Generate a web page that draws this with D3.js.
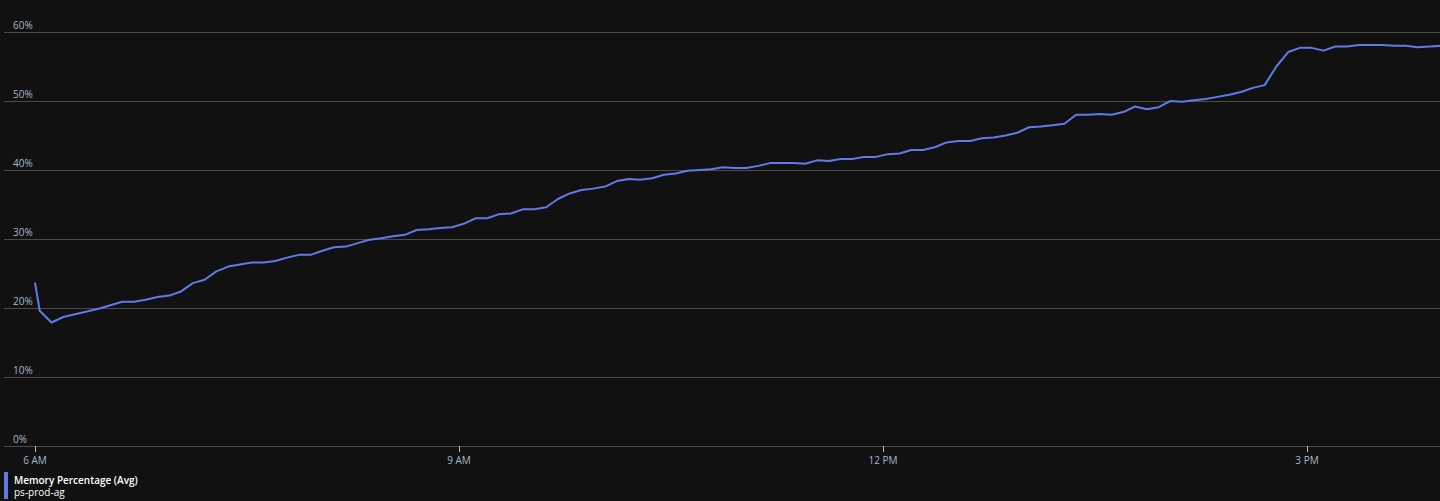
<!DOCTYPE html>
<html><head><meta charset="utf-8">
<script src="https://cdn.jsdelivr.net/npm/d3@7"></script>
<style>html,body{margin:0;background:#111111;overflow:hidden}</style>
</head><body><svg id="c" width="1440" height="501"></svg>
<script>
// minutes after 6 AM
const minutes = [0].concat(d3.range(120).map(k => 2 + 5 * k));
const memoryPct = [23.7,
19.6,17.9,18.7,19.1,19.5,19.9,20.4,20.9,20.9,21.2,21.6,21.8,22.4,23.6,24.1,25.3,26.0,26.3,26.6,26.6,
26.8,27.3,27.7,27.7,28.3,28.8,28.9,29.4,29.9,30.1,30.4,30.6,31.3,31.4,31.6,31.7,32.2,33.0,33.0,33.6,
33.7,34.3,34.3,34.6,35.8,36.6,37.1,37.3,37.6,38.4,38.7,38.6,38.8,39.3,39.5,39.9,40.0,40.1,40.4,40.3,
40.3,40.6,41.0,41.0,41.0,40.9,41.4,41.3,41.6,41.6,41.9,41.9,42.3,42.4,42.9,42.9,43.3,44.0,44.2,44.2,
44.6,44.7,45.0,45.4,46.2,46.3,46.5,46.7,48.0,48.0,48.1,48.0,48.4,49.2,48.8,49.1,50.0,49.9,50.1,50.3,
50.6,50.9,51.3,51.9,52.3,55.0,57.1,57.7,57.7,57.3,57.9,57.9,58.1,58.1,58.1,58.0,58.0,57.8,57.9,58.0];
const yTicks = [0,10,20,30,40,50,60];
const xTickMinutes = [0,180,360,540];
const xTickLabels = ["6 AM","9 AM","12 PM","3 PM"];
const legendTitle = "Memory Percentage (Avg)";
const legendSub = "ps-prod-ag";

const svg = d3.select("#c");
const x = d3.scaleLinear().domain([0,180]).range([35,459]);
const y = d3.scaleLinear().domain([0,60]).range([446,32]);
const font = "'Segoe UI','Open Sans',sans-serif";

svg.append("rect").attr("width",1440).attr("height",501).attr("fill","#111111");

const g = svg.append("g");
yTicks.forEach(t=>{
  g.append("line").attr("x1",4).attr("x2",1440).attr("y1",y(t)).attr("y2",y(t))
   .attr("stroke","#4b4b4b").attr("stroke-width",1).attr("shape-rendering","crispEdges");
  g.append("text").attr("x",13).attr("y",y(t)-3).text(t+"%")
   .attr("fill","#a8b8c8").attr("font-size",10).attr("font-family",font);
});
xTickMinutes.forEach((m,i)=>{
  g.append("line").attr("x1",x(m)).attr("x2",x(m)).attr("y1",446).attr("y2",452)
   .attr("stroke","#bbbbbb").attr("shape-rendering","crispEdges");
  g.append("text").attr("x",x(m)).attr("y",464).attr("text-anchor","middle").text(xTickLabels[i])
   .attr("fill","#a8b8c8").attr("font-size",10).attr("font-family",font);
});

svg.append("clipPath").attr("id","cp").append("rect").attr("x",0).attr("y",0).attr("width",1440).attr("height",446);
const line = d3.line().x((d,i)=>x(minutes[i])).y(d=>y(d));
svg.append("path").datum(memoryPct).attr("d",line).attr("clip-path","url(#cp)")
  .attr("fill","none").attr("stroke","#5f7be8").attr("stroke-width",2).attr("stroke-linejoin","round");

svg.append("rect").attr("x",4).attr("y",472).attr("width",4).attr("height",27).attr("fill","#6479e3");
svg.append("text").attr("x",14).attr("y",484).text(legendTitle)
  .attr("fill","#ffffff").attr("font-size",10).attr("font-weight",600).attr("font-family",font);
svg.append("text").attr("x",14).attr("y",496).text(legendSub)
  .attr("fill","#ffffff").attr("font-size",10).attr("font-family",font);
</script></body></html>
